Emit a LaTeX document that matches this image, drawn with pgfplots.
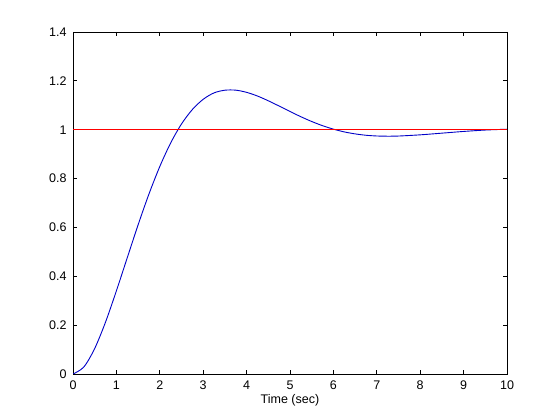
\documentclass[border=0pt]{standalone}
\usepackage{fontspec}
\setmainfont{Liberation Sans}
\usepackage{pgfplots}
\pgfplotsset{compat=1.18}
\begin{document}
\begin{tikzpicture}[x=1pt,y=1pt]
\useasboundingbox (0,0) rectangle (560,420);
\fill[white] (0,0) rectangle (560,420);
\begin{axis}[
  at={(73pt,46pt)}, anchor=south west,
  scale only axis, width=434pt, height=342pt,
  xmin=0, xmax=10, ymin=0, ymax=1.4,
  xtick={0,1,...,10},
  ytick={0,0.2,0.4,0.6,0.8,1,1.2,1.4},
  tick align=inside,
  major tick length=4pt,
  axis line style={line width=0.8pt},
  every tick/.style={line width=0.8pt, black},
  tick label style={font=\fontsize{12.5}{14}\selectfont},
  label style={font=\fontsize{12.5}{14}\selectfont},
  /pgf/number format/assume math mode=true,
  /pgf/number format/fixed,
  xlabel={Time (sec)},
  xlabel style={yshift=2pt},
  xticklabel style={yshift=-3pt},
  yticklabel style={xshift=-3pt},
]
\addplot[color={rgb,255:red,0;green,0;blue,200}, line width=0.9pt, smooth] coordinates {
(0,0) (0.25,0.0287) (0.5,0.1044) (0.75,0.2127) (1,0.3405) (1.25,0.4758)
(1.5,0.6106) (1.75,0.7367) (2,0.8494) (2.25,0.9457) (2.5,1.0235)
(2.75,1.0826) (3,1.1245) (3.25,1.1508) (3.5,1.1617) (3.75,1.1619)
(4,1.1530) (4.25,1.1379) (4.5,1.1184) (4.75,1.0968) (5,1.0746)
(5.25,1.0532) (5.5,1.0336) (5.75,1.0165) (6,1.0023) (6.25,0.9910)
(6.5,0.9829) (6.75,0.9773) (7,0.9743) (7.25,0.9734) (7.5,0.9741)
(8,0.9790) (8.5,0.9859) (9,0.9929) (9.5,0.9986) (10,1.0021)
};
\addplot[red, line width=1.2pt, mark=none] coordinates {(0,1) (10,1)};
\end{axis}
\end{tikzpicture}
\end{document}
